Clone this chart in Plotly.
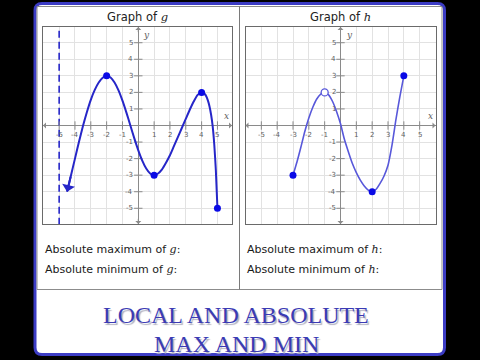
import plotly.graph_objects as go

# ---- data ----
g_x = [-4.5, -4.25, -4.0, -3.75, -3.5, -3.25, -3.0, -2.75, -2.5, -2.25, -2.0,
       -1.75, -1.5, -1.25, -1.0, -0.75, -0.5, -0.25, 0.0, 0.25, 0.5, 0.75, 1.0,
       1.25, 1.5, 1.75, 2.0, 2.25, 2.5, 2.75, 3.0, 3.25, 3.5, 3.75, 4.0,
       4.1, 4.2, 4.3, 4.4, 4.5, 4.6, 4.7, 4.8, 4.9, 5.0]
g_y = [-4.0, -3.0, -2.0, -1.0, -0.05, 0.8, 1.55, 2.15, 2.6, 2.88, 3.0,
       2.9, 2.6, 2.12, 1.5, 0.78, 0.0, -0.78, -1.5, -2.12, -2.6, -2.9, -3.0,
       -2.9, -2.65, -2.25, -1.8, -1.25, -0.7, -0.15, 0.4, 0.95, 1.45, 1.85, 2.0,
       1.97, 1.9, 1.75, 1.5, 1.15, 0.65, -0.05, -1.15, -2.7, -5.0]
g_dots_x = [-2, 1, 4, 5]
g_dots_y = [3, -3, 2, -5]
g_asymptote = -5

h_x = [-3.0, -2.75, -2.5, -2.25, -2.0, -1.75, -1.5, -1.25, -1.0,
       -0.75, -0.5, -0.25, 0.0, 0.25, 0.5, 0.75, 1.0, 1.25, 1.5, 1.75, 2.0,
       2.25, 2.5, 2.75, 3.0, 3.25, 3.5, 3.75, 4.0]
h_y = [-3.0, -2.2, -1.3, -0.35, 0.45, 1.1, 1.6, 1.9, 2.0,
       1.85, 1.45, 0.85, 0.1, -0.85, -1.6, -2.3, -2.85, -3.3, -3.65, -3.9, -4.0,
       -3.85, -3.5, -3.05, -2.4, -1.2, 0.35, 1.75, 3.0]
h_closed_x = [-3, 2, 4]
h_closed_y = [-3, -4, 3]
h_open_x = [-1]
h_open_y = [2]

ticks = [-5, -4, -3, -2, -1, 1, 2, 3, 4, 5]
tick_labels = [str(t) for t in ticks]

W, H = 480, 360
def px(x): return x / W
def py(y): return 1 - y / H

fig = go.Figure()

BLUE_LINE_G = "#2626C8"
BLUE_LINE_H = "#5858DA"
DOT = "#0A0AE6"

def axes_decor(xa, ya):
    fig.add_trace(go.Scatter(x=ticks, y=[0]*len(ticks), mode="markers", xaxis=xa, yaxis=ya,
                             marker=dict(symbol="line-ns", size=6, line=dict(width=1, color="#8a8a8a")),
                             hoverinfo="skip"))
    fig.add_trace(go.Scatter(x=[0]*len(ticks), y=ticks, mode="markers", xaxis=xa, yaxis=ya,
                             marker=dict(symbol="line-ew", size=6, line=dict(width=1, color="#8a8a8a")),
                             hoverinfo="skip"))

# ---- g ----
fig.add_trace(go.Scatter(x=[g_asymptote, g_asymptote], y=[-6, 6], mode="lines", xaxis="x", yaxis="y",
                         line=dict(color=BLUE_LINE_G, width=1.6, dash="7px,4px"), hoverinfo="skip"))
axes_decor("x", "y")
fig.add_trace(go.Scatter(x=g_x, y=g_y, mode="lines", xaxis="x", yaxis="y",
                         line=dict(color=BLUE_LINE_G, width=2, shape="spline", smoothing=0.6)))
fig.add_trace(go.Scatter(x=g_dots_x, y=g_dots_y, mode="markers", xaxis="x", yaxis="y",
                         marker=dict(color=DOT, size=7)))

# ---- h ----
axes_decor("x2", "y2")
fig.add_trace(go.Scatter(x=h_x, y=h_y, mode="lines", xaxis="x2", yaxis="y2",
                         line=dict(color=BLUE_LINE_H, width=1.6, shape="spline", smoothing=0.6)))
fig.add_trace(go.Scatter(x=h_closed_x, y=h_closed_y, mode="markers", xaxis="x2", yaxis="y2",
                         marker=dict(color=DOT, size=7)))
fig.add_trace(go.Scatter(x=h_open_x, y=h_open_y, mode="markers", xaxis="x2", yaxis="y2",
                         marker=dict(color="white", size=7, line=dict(color=BLUE_LINE_H, width=1.3))))

ax_common = dict(showgrid=True, gridcolor="#e2e2e2", gridwidth=1, dtick=1, tick0=0,
                 zeroline=True, zerolinecolor="#8a8a8a", zerolinewidth=1,
                 showline=True, linecolor="#6a6a6a", linewidth=1, mirror=True,
                 showticklabels=False, ticks="", fixedrange=True)

XR1, XR2, YR = [-6.02, 5.92], [-6.0, 6.0], [-5.95, 5.95]
fig.update_layout(
    width=W, height=H, margin=dict(l=0, r=0, t=0, b=0),
    paper_bgcolor="black", plot_bgcolor="white", showlegend=False,
    xaxis=dict(domain=[px(43), px(232)], range=XR1, anchor="y", **ax_common),
    yaxis=dict(domain=[py(224), py(27)], range=YR, anchor="x", **ax_common),
    xaxis2=dict(domain=[px(245.5), px(435.5)], range=XR2, anchor="y2", **ax_common),
    yaxis2=dict(domain=[py(224), py(27)], range=YR, anchor="x2", **ax_common),
)

# frame: white rounded rectangle with blue border
x0, x1, y0, y1, r = 35, 444.5, 3.5, 354.5, 7
path = (f"M {px(x0+r)},{py(y0)} L {px(x1-r)},{py(y0)} Q {px(x1)},{py(y0)} {px(x1)},{py(y0+r)} "
        f"L {px(x1)},{py(y1-r)} Q {px(x1)},{py(y1)} {px(x1-r)},{py(y1)} "
        f"L {px(x0+r)},{py(y1)} Q {px(x0)},{py(y1)} {px(x0)},{py(y1-r)} "
        f"L {px(x0)},{py(y0+r)} Q {px(x0)},{py(y0)} {px(x0+r)},{py(y0)} Z")
shapes = [
    dict(type="path", xref="paper", yref="paper", path=path, fillcolor="white",
         line=dict(color="#3C3CC4", width=3), layer="below"),
    dict(type="rect", xref="paper", yref="paper", x0=px(37), x1=px(442), y0=py(289.5), y1=py(6.5),
         line=dict(color="#8c8c8c", width=1), layer="below"),
    dict(type="line", xref="paper", yref="paper", x0=px(239.5), x1=px(239.5), y0=py(289.5), y1=py(6.5),
         line=dict(color="#7a7a7a", width=1), layer="below"),
]
fig.update_layout(shapes=shapes)

ann = []
TICKF = dict(size=7, color="#606060", family="DejaVu Sans")
for xa, ya, xr in (("x", "y", XR1), ("x2", "y2", XR2)):
    for t, lab in zip(ticks, tick_labels):
        ann.append(dict(x=t, y=0, xref=xa, yref=ya, text=lab, showarrow=False, yshift=-9,
                        xanchor="center", yanchor="middle", font=TICKF))
        ann.append(dict(x=0, y=t, xref=xa, yref=ya, text=lab, showarrow=False, xanchor="right",
                        yanchor="middle", xshift=-3, font=TICKF))
    ann.append(dict(x=xr[1], y=0, xref=xa, yref=ya, text="<i>x</i>", showarrow=False,
                    xanchor="right", yanchor="middle", yshift=9, xshift=-1,
                    font=dict(size=9, color="#606060", family="DejaVu Serif")))
    ann.append(dict(x=0, y=YR[1], xref=xa, yref=ya, text="<i>y</i>", showarrow=False,
                    xanchor="left", yanchor="top", xshift=3, yshift=-1,
                    font=dict(size=9, color="#606060", family="DejaVu Serif")))
    for (ex, ey, hx, hy) in ((xr[1] - 0.4, 0, xr[1], 0), (xr[0] + 0.4, 0, xr[0], 0),
                             (0, YR[1] - 0.4, 0, YR[1]), (0, YR[0] + 0.4, 0, YR[0])):
        ann.append(dict(x=hx, y=hy, ax=ex, ay=ey, xref=xa, yref=ya, axref=xa, ayref=ya, text="",
                        showarrow=True, arrowhead=1, arrowsize=1, arrowwidth=1, arrowcolor="#8a8a8a"))

# arrow at the start of g
ann.append(dict(x=g_x[0], y=g_y[0], ax=g_x[1], ay=g_y[1],
                xref="x", yref="y", axref="x", ayref="y", text="", showarrow=True,
                arrowhead=1, arrowsize=1.1, arrowwidth=2, arrowcolor=BLUE_LINE_G))

SERIF_I = "font-family:'DejaVu Serif';font-style:italic"
TITLEF = dict(size=11.5, color="#222222", family="DejaVu Sans")
for cx, name in ((137.5, "g"), (340, "h")):
    ann.append(dict(x=px(cx), y=py(17), xref="paper", yref="paper", showarrow=False,
                    xanchor="center", yanchor="middle",
                    text=f"Graph of <span style=\"{SERIF_I}\">{name}</span>", font=TITLEF))

BODYF = dict(size=11, color="#1a1a1a", family="DejaVu Sans")
for fx, name in ((43, "g"), (245, "h")):
    ann.append(dict(x=px(fx), y=py(249), xref="paper", yref="paper", showarrow=False,
                    xanchor="left", yanchor="middle",
                    text=f"Absolute maximum of <span style=\"{SERIF_I}\">{name}</span>:", font=BODYF))
    ann.append(dict(x=px(fx), y=py(269), xref="paper", yref="paper", showarrow=False,
                    xanchor="left", yanchor="middle",
                    text=f"Absolute minimum of <span style=\"{SERIF_I}\">{name}</span>:", font=BODYF))

BIGF = dict(size=24, color="#3B3BB4", family="Liberation Serif", shadow="1.5px 1.5px 1px #b0b0c0")
for line, yy in (("LOCAL AND ABSOLUTE", 315), ("MAX AND MIN", 344)):
    ann.append(dict(x=px(236), y=py(yy), xref="paper", yref="paper", showarrow=False, text=line,
                    xanchor="center", yanchor="middle", font=BIGF))

fig.update_layout(annotations=ann)
fig.write_html("out.html")
